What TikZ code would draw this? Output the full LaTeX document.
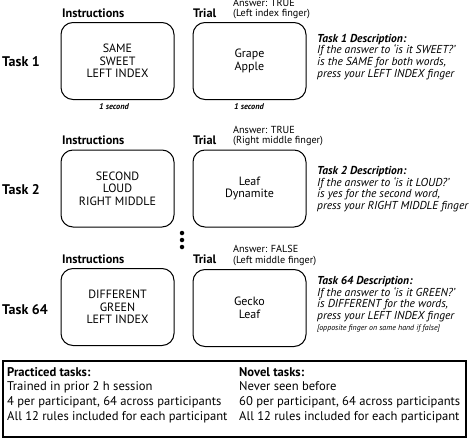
\documentclass[tikz,border=0pt]{standalone}
\usepackage{fontspec}
\setmainfont{PT Sans}
\begin{document}
\begin{tikzpicture}[x=1pt,y=-1pt,
  scr/.style={draw,line width=1pt,rounded corners=12pt,minimum width=113pt,minimum height=77pt,align=center,font=\fontsize{12}{12.5}\selectfont,inner sep=0pt},
  head/.style={anchor=west,font=\bfseries\fontsize{12.3}{12}\selectfont,inner sep=0pt},
  tasklab/.style={anchor=west,font=\bfseries\fontsize{14}{14}\selectfont,inner sep=0pt},
  ans/.style={anchor=west,align=left,font=\fontsize{10.2}{10.5}\selectfont,inner sep=0pt},
  dur/.style={font=\bfseries\itshape\fontsize{8.3}{8}\selectfont,inner sep=0pt},
  desc/.style={anchor=north west,align=left,font=\itshape\fontsize{11.5}{11.6}\selectfont,inner sep=0pt},
  note/.style={anchor=west,font=\itshape\fontsize{7.9}{7}\selectfont,inner sep=0pt},
  summ/.style={anchor=north west,align=left,font=\fontsize{12.6}{14.7}\selectfont,inner sep=0pt},
  dot/.style={circle,fill,inner sep=0pt,minimum size=4.5pt}]
\useasboundingbox (0,0) rectangle (474,439);

% Task 1
\node[tasklab] (t1) at (2,62) {Task 1};
\node[head] (i1h) at (62,13) {Instructions};
\node[scr] (i1) at (117.5,61) {SAME\\SWEET\\LEFT INDEX};
\node[dur] (d1) at (114,107) {1 second};
\node[head] (r1h) at (193,13) {Trial};
\node[ans] (a1) at (233,9) {Answer: TRUE\\(Left index finger)};
\node[scr] (r1) at (249.5,61) {Grape\\Apple};
\node[dur] (d2) at (249,107) {1 second};
\node[desc] (x1) at (317,34) {\bfseries Task 1 Description:\\If the answer to ‘is it SWEET?’\\is the SAME for both words,\\press your LEFT INDEX finger};

% Task 2
\node[tasklab] (t2) at (2,190) {Task 2};
\node[head] (i2h) at (62,140) {Instructions};
\node[scr] (i2) at (117.5,188.5) {SECOND\\LOUD\\RIGHT MIDDLE};
\node[head] (r2h) at (193,140) {Trial};
\node[ans] (a2) at (233,136) {Answer: TRUE\\(Right middle finger)};
\node[scr] (r2) at (249.5,188.5) {Leaf\\Dynamite};
\node[desc] (x2) at (317,166) {\bfseries Task 2 Description:\\If the answer to ‘is it LOUD?’\\is yes for the second word,\\press your RIGHT MIDDLE finger};

% dots
\node[dot] (p1) at (182,233) {};
\node[dot] (p2) at (182,240) {};
\node[dot] (p3) at (182,247) {};

% Task 64
\node[tasklab] (t3) at (2,310) {Task 64};
\node[head] (i3h) at (62,259) {Instructions};
\node[scr] (i3) at (117.5,307) {DIFFERENT\\GREEN\\LEFT INDEX};
\node[head] (r3h) at (193,259) {Trial};
\node[ans] (a3) at (233,255.5) {Answer: FALSE\\(Left middle finger)};
\node[scr] (r3) at (249.5,308) {Gecko\\Leaf};
\node[desc] (x3) at (317,276) {\bfseries Task 64 Description:\\If the answer to ‘is it GREEN?’\\is DIFFERENT for the words,\\press your LEFT INDEX finger};
\node[note] (n3) at (317,329) {[opposite finger on same hand if false]};

% summary
\draw[line width=1.6pt] (3,361) rectangle (466,437);
\node[summ] (s1) at (7,367) {\bfseries Practiced tasks:\\Trained in prior 2 h session\\4 per participant, 64 across participants\\All 12 rules included for each participant};
\node[summ] (s2) at (239,367) {\bfseries Novel tasks:\\Never seen before\\60 per participant, 64 across participants\\All 12 rules included for each participant};
\end{tikzpicture}
\end{document}
